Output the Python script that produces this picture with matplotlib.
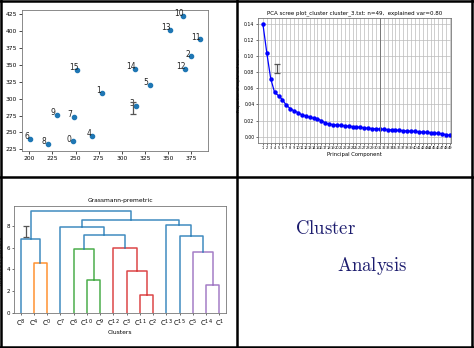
import numpy as np
import matplotlib
matplotlib.use("Agg")
import matplotlib.pyplot as plt
from matplotlib.lines import Line2D

plt.rcParams['mathtext.fontset'] = 'cm'

# ---- data: cluster centres (top left) ----
pt_ids = [10, 13, 11, 2, 12, 15, 14, 5, 1, 3, 9, 7, 6, 8, 0, 4]
pt_x = [366, 352, 384, 375, 368, 252, 314, 330, 279, 315, 230, 248, 201, 220, 247, 268]
pt_y = [423, 402, 388, 363, 344, 343, 344, 321, 309, 290, 276, 273, 241, 233, 237, 245]

# ---- data: scree plot (top right) ----
expl_var = [0.140, 0.104, 0.072, 0.055, 0.051, 0.046, 0.039, 0.035, 0.032, 0.030,
            0.027, 0.026, 0.024, 0.023, 0.022, 0.020, 0.017, 0.0155, 0.015, 0.0145,
            0.014, 0.0135, 0.013, 0.0125, 0.012, 0.0115, 0.011, 0.0105, 0.010, 0.0098,
            0.0095, 0.009, 0.0088, 0.0085, 0.008, 0.0078, 0.0075, 0.007, 0.0068, 0.0065,
            0.006, 0.0057, 0.0053, 0.005, 0.0045, 0.004, 0.0035, 0.0025, 0.0015]
components = list(range(1, len(expl_var) + 1))
var_cut = 31

# ---- data: dendrogram (bottom left) ----
leaves = ["8", "4", "0", "7", "6", "10", "9", "12", "3", "11", "2", "13", "15", "5", "14", "1"]
# (left child, right child, height, colour); ints are earlier merges
merges = [("4", "0", 4.6, "C1"),
          ("8", 0, 6.8, "C0"),
          ("10", "9", 3.0, "C2"),
          ("6", 2, 5.9, "C2"),
          ("11", "2", 1.65, "C3"),
          ("3", 4, 3.85, "C3"),
          ("12", 5, 5.95, "C3"),
          (3, 6, 7.15, "C0"),
          ("7", 7, 7.85, "C0"),
          ("14", "1", 2.6, "C4"),
          ("5", 9, 5.6, "C4"),
          ("15", 10, 7.05, "C0"),
          ("13", 11, 8.1, "C0"),
          (8, 12, 8.5, "C0"),
          (1, 13, 9.3, "C0")]

# mouse cursor (I-beam) seen in the screenshot: (x, ylow, yhigh)
cursor_tl = (311.5, 278, 295)
cursor_tr = (4.7, 0.079, 0.090)
cursor_bl = (8.8, 7.0, 8.0)

fig = plt.figure(figsize=(4.74, 3.48), dpi=100)


def draw_cursor(ax, c):
    ax.errorbar([c[0]], [(c[1] + c[2]) / 2], yerr=[[(c[2] - c[1]) / 2]], fmt='none',
                ecolor='#555555', elinewidth=0.9, capsize=2, capthick=0.9, zorder=5)


# ---- top left: scatter ----
ax1 = fig.add_axes([0.046, 0.567, 0.393, 0.404])
ax1.scatter(pt_x, pt_y, s=9, color='#1f77b4', zorder=3)
for i, x, y in zip(pt_ids, pt_x, pt_y):
    ax1.annotate(str(i), (x, y), xytext=(-2.6, 1.6), textcoords='offset points',
                 ha='center', va='center', fontsize=5.5, color='#222222')
draw_cursor(ax1, cursor_tl)
ax1.set_xlim(192, 393)
ax1.set_ylim(223, 431.5)
ax1.set_xticks(range(200, 376, 25))
ax1.set_yticks(range(225, 426, 25))
ax1.tick_params(labelsize=4.3, length=2, width=0.5, pad=1.5)
for s in ax1.spines.values():
    s.set_linewidth(0.6)
    s.set_color('#777777')

# ---- top right: scree plot ----
ax2 = fig.add_axes([0.544, 0.59, 0.407, 0.357])
ax2.plot(components, expl_var, '-o', color='blue', markersize=2.2, linewidth=0.9)
ax2.axvline(var_cut, color='#777777', linewidth=0.7)
draw_cursor(ax2, cursor_tr)
ax2.set_xticks(components)
ax2.set_yticks([0.00, 0.02, 0.04, 0.06, 0.08, 0.10, 0.12, 0.14])
ax2.set_xlim(-0.3, 49.2)
ax2.set_ylim(-0.0075, 0.147)
ax2.grid(True, color='#bbbbbb', linewidth=0.5)
ax2.tick_params(axis='y', labelsize=3.3, length=1.5, width=0.4, pad=1)
ax2.tick_params(axis='x', labelsize=2.6, length=1.5, width=0.4, pad=1)
ax2.set_title("PCA scree plot_cluster cluster_3.txt: n=49,  explained var=0.80", fontsize=4, pad=3)
ax2.set_xlabel("Principal Component", fontsize=3.8, labelpad=1)
ax2.set_ylabel("Proportion of explained variance", fontsize=2.8, labelpad=2)
for s in ax2.spines.values():
    s.set_linewidth(0.6)
    s.set_color('#777777')

# ---- bottom left: dendrogram ----
ax3 = fig.add_axes([0.0295, 0.0997, 0.4475, 0.3076])
pos = {name: 5 + 10 * i for i, name in enumerate(leaves)}
hgt = {name: 0.0 for name in leaves}
for k, (a, b, h, col) in enumerate(merges):
    xa, xb = pos[a], pos[b]
    ya, yb = hgt[a], hgt[b]
    ax3.plot([xa, xa, xb, xb], [ya, h, h, yb], color=col, linewidth=1.1, alpha=0.85)
    pos[k] = (xa + xb) / 2
    hgt[k] = h
draw_cursor(ax3, cursor_bl)
ax3.set_xlim(0, 10 * len(leaves))
ax3.set_ylim(0, max(m[2] for m in merges) * 1.05)
ax3.set_xticks([5 + 10 * i for i in range(len(leaves))])
ax3.set_xticklabels([r"C$^{%s}$" % n for n in leaves], fontsize=5)
for t in ax3.get_xticklabels():
    t.set_math_fontfamily('dejavusans')
ax3.set_yticks([0, 2, 4, 6, 8])
ax3.tick_params(axis='y', labelsize=4, length=1.5, width=0.4, pad=1)
ax3.tick_params(axis='x', length=1.5, width=0.4, pad=1.5)
ax3.set_title("Grassmann-premetric", fontsize=4.3, pad=3)
ax3.set_xlabel("Clusters", fontsize=4.3, labelpad=1)
ax3.set_ylabel("Grassmann premetric", fontsize=3.3, labelpad=2)
for s in ax3.spines.values():
    s.set_linewidth(0.6)
    s.set_color('#777777')

# ---- bottom right: text ----
fig.text(0.622, 0.342, r"$\mathrm{Cluster}$", fontsize=13.5, color='#1c1c6e',
         ha='left', va='center')
fig.text(0.711, 0.236, r"$\mathrm{Analysis}$", fontsize=13.5, color='#1c1c6e',
         ha='left', va='center')

# ---- panel frame ----
yline = 1 - 177 / 348
for xs, ys in [([0.5, 0.5], [0, 1]), ([0, 1], [yline, yline]),
               ([0.002, 0.002], [0, 1]), ([0.996, 0.996], [0, 1]),
               ([0, 1], [0.004, 0.004]), ([0, 1], [0.997, 0.997])]:
    fig.add_artist(Line2D(xs, ys, color='black', linewidth=1.8, transform=fig.transFigure))

fig.savefig("out.png", dpi=100)
